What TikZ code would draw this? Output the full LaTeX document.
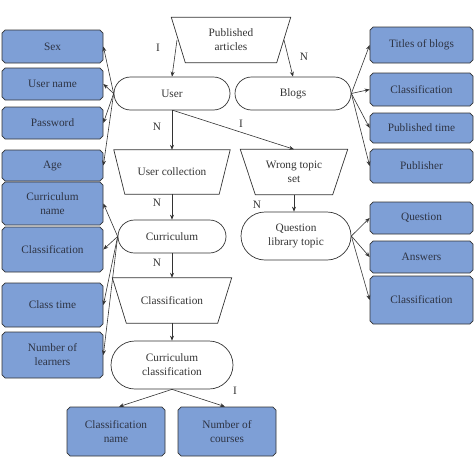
\documentclass[tikz,border=0pt]{standalone}
\usepackage{fontspec}
\setmainfont{Liberation Serif}
\usetikzlibrary{shapes.misc,arrows.meta}
\definecolor{boxblue}{HTML}{7E9FD6}
\definecolor{lineg}{HTML}{333333}
\definecolor{txtg}{HTML}{2E3444}
\begin{document}
\begin{tikzpicture}[x=1pt,y=-1pt,
  font=\fontsize{11.3}{14}\selectfont,
  attr/.style={shape=chamfered rectangle, chamfered rectangle xsep=1.6pt, chamfered rectangle ysep=1.6pt, draw=lineg, line width=0.7pt,
    fill=boxblue, text=txtg, align=center, inner sep=0pt, minimum width=101pt},
  stad/.style={draw=lineg, line width=0.7pt, align=center, inner sep=0pt, text=lineg},
  trap/.style={inner sep=0pt, align=center, text=lineg},
  trapline/.style={draw=lineg, line width=0.7pt},
  arr/.style={draw=lineg, line width=0.6pt, -{Stealth[length=5pt,width=4pt]}},
  lab/.style={text=lineg, inner sep=0pt}]
\useasboundingbox (0,0) rectangle (474,474);
% trapezium-like nodes
\node[trap, minimum width=119pt, minimum height=45pt] (pa) at (231,40) {Published\\articles};
\draw[trapline] (pa.north west) -- (pa.north east) -- ([xshift=-14pt]pa.south east) -- ([xshift=14pt]pa.south west) -- cycle;
\node[trap, minimum width=116pt, minimum height=44pt] (uc) at (172,172) {User collection};
\draw[trapline] (uc.north west) -- (uc.north east) -- ([xshift=-11pt]uc.south east) -- ([xshift=11pt]uc.south west) -- cycle;
\node[trap, minimum width=107pt, minimum height=45pt] (wt) at (294,172) {Wrong topic\\set};
\draw[trapline] (wt.north west) -- (wt.north east) -- ([xshift=-15pt]wt.south east) -- ([xshift=15pt]wt.south west) -- cycle;
\node[trap, minimum width=119pt, minimum height=45pt] (cl) at (172,300.5) {Classification};
\draw[trapline] (cl.north west) -- (cl.north east) -- ([xshift=-14pt]cl.south east) -- ([xshift=14pt]cl.south west) -- cycle;
% stadium nodes
\node[stad, rounded corners=16.5pt, minimum width=116pt, minimum height=33pt] (user) at (172,93.5) {User};
\node[stad, rounded corners=16.5pt, minimum width=116pt, minimum height=33pt] (blogs) at (293,93.5) {Blogs};
\node[stad, rounded corners=24pt, minimum width=110pt, minimum height=48pt] (ql) at (296,236) {Question\\library topic};
\node[stad, rounded corners=16.5pt, minimum width=108pt, minimum height=33pt] (cur) at (172,236.5) {Curriculum};
\node[stad, rounded corners=24pt, minimum width=122pt, minimum height=48pt] (cc) at (172,365) {Curriculum\\classification};
% left attribute boxes
\node[attr, minimum height=33pt] (sex) at (52.5,46.5) {Sex};
\node[attr, minimum height=32pt] (un) at (52.5,84) {User name};
\node[attr, minimum height=32pt] (pw) at (52.5,123) {Password};
\node[attr, minimum height=31pt] (age) at (52.5,165.5) {Age};
\node[attr, minimum height=43pt] (cn) at (52.5,203.5) {Curriculum\\name};
\node[attr, minimum height=45pt] (lcl) at (52.5,249.5) {Classification};
\node[attr, minimum height=44pt] (ct) at (52.5,305) {Class time};
\node[attr, minimum height=46pt] (nl) at (52.5,355) {Number of\\learners};
% right attribute boxes
\node[attr, minimum width=103pt, minimum height=36pt] (tb) at (421.5,45) {Titles of blogs};
\node[attr, minimum width=103pt, minimum height=33pt] (bcl) at (421.5,89.5) {Classification};
\node[attr, minimum width=103pt, minimum height=30pt] (pt) at (421.5,128) {Published time};
\node[attr, minimum width=103pt, minimum height=34pt] (pub) at (421.5,166) {Publisher};
\node[attr, minimum width=103pt, minimum height=32pt] (qq) at (421.5,218) {Question};
\node[attr, minimum width=103pt, minimum height=32pt] (ans) at (421.5,257) {Answers};
\node[attr, minimum width=103pt, minimum height=48pt] (qcl) at (421.5,300) {Classification};
% bottom boxes
\node[attr, minimum width=98pt, minimum height=49pt] (cname) at (116,431.5) {Classification\\name};
\node[attr, minimum width=98pt, minimum height=49pt] (nc) at (227,431.5) {Number of\\courses};
% main flow
\draw[arr] ([xshift=-54pt]pa.center) -- (user.north);
\draw[arr] ([xshift=53pt]pa.center) -- (blogs.north);
\draw[arr] (user.south) -- (uc.north);
\draw[arr] ([xshift=1pt]user.south) -- (wt.north);
\draw[arr] (uc.south) -- (cur.north);
\draw[arr] (wt.south) -- (wt.south |- ql.north);
\draw[arr] (cur.south) -- (cl.north);
\draw[arr] (cl.south) -- (cc.north);
% attributes
\foreach \t in {sex,un,pw,age} \draw[arr] (user.west) -- (\t.east);
\foreach \t in {cn,lcl,ct,nl} \draw[arr] (cur.west) -- (\t.east);
\foreach \t in {tb,bcl,pt,pub} \draw[arr] (blogs.east) -- (\t.west);
\foreach \t in {qq,ans,qcl} \draw[arr] (ql.east) -- (\t.west);
\draw[arr] (cc.south) -- ([xshift=3pt]cname.north);
\draw[arr] (cc.south) -- ([xshift=-2pt]nc.north);
% labels
\node[lab] (l1) at (158,48) {I};
\node[lab] (l2) at (304,57) {N};
\node[lab] (l3) at (157,127) {N};
\node[lab] (l4) at (241,124) {I};
\node[lab] (l5) at (157,203) {N};
\node[lab] (l6) at (157,263) {N};
\node[lab] (l7) at (257,205) {N};
\node[lab] (l8) at (235,391) {I};
\end{tikzpicture}
\end{document}
